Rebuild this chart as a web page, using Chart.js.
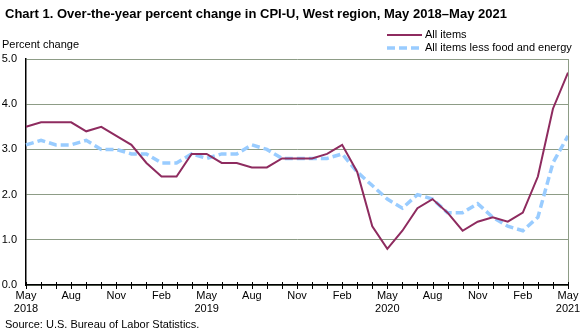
<!DOCTYPE html>
<html>
<head>
<meta charset="utf-8">
<script src="https://cdn.jsdelivr.net/npm/chart.js@4.4.0/dist/chart.umd.min.js"></script>
<style>
  html, body { margin: 0; padding: 0; background: #fff; }
  #wrap { width: 588px; height: 336px; position: relative; }
</style>
</head>
<body>
<div id="wrap"><canvas id="cpi_chart" width="588" height="336"></canvas></div>
<script>
const months = ['May','Jun','Jul','Aug','Sep','Oct','Nov','Dec','Jan','Feb','Mar','Apr']
const years = ['2018', '2019', '2020', '2021']

const all_items = [
    3.5, 3.6, 3.6, 3.6, 3.4, 3.5, 3.3, 3.1, 2.7, 2.4, 2.4, 2.9,
    2.9, 2.7, 2.7, 2.6, 2.6, 2.8, 2.8, 2.8, 2.9, 3.1, 2.5, 1.3,
    0.8, 1.2, 1.7, 1.9, 1.6, 1.2, 1.4, 1.5, 1.4, 1.6, 2.4, 3.9,
    4.7
]
const less_food_energy = [
    3.1, 3.2, 3.1, 3.1, 3.2, 3.0, 3.0, 2.9, 2.9, 2.7, 2.7, 2.9,
    2.8, 2.9, 2.9, 3.1, 3.0, 2.8, 2.8, 2.8, 2.8, 2.9, 2.5, 2.2,
    1.9, 1.7, 2.0, 1.9, 1.6, 1.6, 1.8, 1.5, 1.3, 1.2, 1.5, 2.7,
    3.3
]
const y_ticks = [0, 1, 2, 3, 4, 5]

const title_text = 'Chart 1. Over-the-year percent change in CPI-U, West region, May 2018\u2013May 2021'
const y_title = 'Percent change'
const source_text = 'Source: U.S. Bureau of Labor Statistics.'

const FONT = '"Liberation Sans", Arial, sans-serif'
const GRID = '#8d9c86'

// build labels: May gets the year underneath
let labels = []
for (let i = 0; i < all_items.length; i++) {
    let m = months[i % 12]
    if (m === 'May') labels.push([m, years[Math.floor(i / 12)]])
    else labels.push(m)
}

const extras = {
    id: 'extras',
    afterDraw(chart) {
        const ctx = chart.ctx
        const area = chart.chartArea
        const xs = chart.scales.x
        ctx.save()

        // right border of plot
        ctx.strokeStyle = GRID
        ctx.lineWidth = 1
        ctx.beginPath()
        ctx.moveTo(area.right + 0.5, area.top)
        ctx.lineTo(area.right + 0.5, area.bottom)
        ctx.stroke()

        // ticks crossing the x axis
        ctx.strokeStyle = '#000'
        ctx.beginPath()
        xs.ticks.forEach((t, i) => {
            let px = Math.round(xs.getPixelForTick(i)) + 0.5
            ctx.moveTo(px, area.bottom - 3)
            ctx.lineTo(px, area.bottom + 4)
        })
        ctx.stroke()

        // title
        ctx.fillStyle = '#000'
        ctx.textBaseline = 'middle'
        ctx.textAlign = 'left'
        ctx.font = 'bold 13px ' + FONT
        ctx.fillText(title_text, 5, 14)

        ctx.font = '11px ' + FONT
        ctx.fillText(y_title, 2, 45)
        ctx.fillText(source_text, 5, 325)

        // legend
        let ly = [35, 48]
        chart.data.datasets.forEach((ds, i) => {
            ctx.strokeStyle = ds.borderColor
            ctx.lineWidth = ds.borderWidth
            ctx.setLineDash(ds.borderDash || [])
            ctx.beginPath()
            ctx.moveTo(387, ly[i])
            ctx.lineTo(422, ly[i])
            ctx.stroke()
            ctx.setLineDash([])
            ctx.fillStyle = '#000'
            ctx.fillText(ds.label, 425, ly[i])
        })
        ctx.restore()
    }
}

new Chart(document.getElementById('cpi_chart'), {
    type: 'line',
    data: {
        labels: labels,
        datasets: [
            {
                label: 'All items',
                data: all_items,
                borderColor: '#8e2b5f',
                borderWidth: 2,
                pointRadius: 0,
                tension: 0,
            },
            {
                label: 'All items less food and energy',
                data: less_food_energy,
                borderColor: '#99ccff',
                borderWidth: 3.5,
                borderDash: [8, 4],
                pointRadius: 0,
                tension: 0,
            }
        ]
    },
    options: {
        responsive: false,
        animation: false,
        devicePixelRatio: 1,
        layout: { padding: { top: 59, right: 20, bottom: 0, left: 0 } },
        plugins: {
            legend: { display: false },
            tooltip: { enabled: false },
        },
        scales: {
            x: {
                offset: false,
                grid: { display: false, drawTicks: false },
                border: { display: true, color: '#000', width: 1.5 },
                ticks: {
                    autoSkip: false,
                    maxRotation: 0,
                    padding: 5,
                    color: '#000',
                    font: { family: FONT, size: 11, lineHeight: 1.15 },
                    callback: function (v, i) {
                        return i % 3 === 0 ? labels[i] : ''
                    }
                },
                afterFit: (scale) => { scale.height = 51 }
            },
            y: {
                min: 0,
                max: 5,
                afterBuildTicks: (scale) => { scale.ticks = y_ticks.map(v => ({ value: v })) },
                grid: { color: GRID, lineWidth: 1, drawTicks: false },
                border: { display: true, color: '#000', width: 1.5 },
                ticks: {
                    padding: 9,
                    color: '#000',
                    font: { family: FONT, size: 11 },
                    callback: (v) => v.toFixed(1)
                },
                afterFit: (scale) => { scale.width = 26 }
            }
        }
    },
    plugins: [extras]
})
</script>
</body>
</html>
